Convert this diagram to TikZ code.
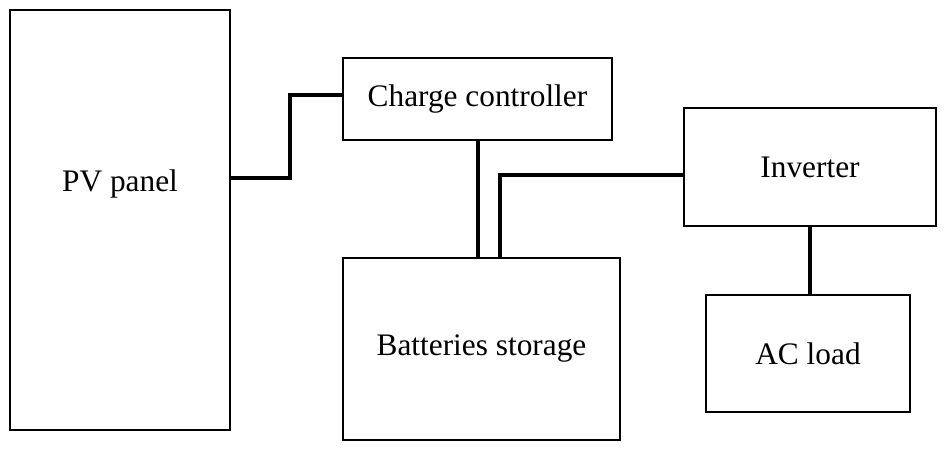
\documentclass[tikz,border=0pt]{standalone}
\usepackage{fontspec}
\setmainfont{Liberation Serif}
\begin{document}
\begin{tikzpicture}[x=0.75pt,y=-0.75pt]
\tikzset{box/.style={draw=black, line width=0.8pt, inner sep=0pt, font=\fontsize{23.5}{26}\selectfont},
         wire/.style={line width=2.4pt}}
\useasboundingbox (0,0) rectangle (946,468);
% blocks
\node (pv) [box, minimum width=220*0.75pt, minimum height=420*0.75pt,
  label={[font=\fontsize{23.5}{26}\selectfont, yshift=36*0.75pt]center:PV panel}] at (120,220) {};
\node (cc) [box, minimum width=269*0.75pt, minimum height=82*0.75pt] at (477.5,99) {Charge controller};
\node (inv) [box, minimum width=252*0.75pt, minimum height=118*0.75pt] at (810,167) {Inverter};
\node (bat) [box, minimum width=277*0.75pt, minimum height=182*0.75pt] at (481.5,349) {Batteries storage};
\node (ac) [box, minimum width=204*0.75pt, minimum height=117*0.75pt] at (808,353.5) {AC load};
% wires
\draw [wire] (pv.east |- 0,178) -| (290,95) -- (cc.west |- 0,95);
\draw [wire] (cc.south -| 478,0) -- (bat.north -| 478,0);
\draw [wire] (bat.north -| 500,0) |- (inv.west |- 0,175);
\draw [wire] (inv.south -| 810,0) -- (ac.north -| 810,0);
\end{tikzpicture}
\end{document}
